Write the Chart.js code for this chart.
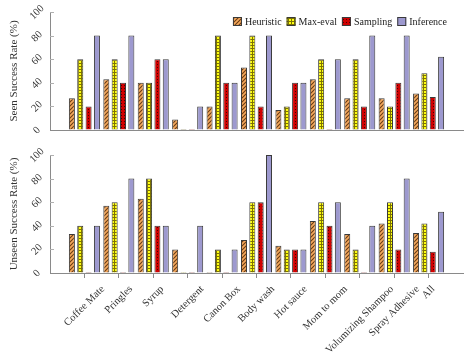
<!DOCTYPE html>
<html>
<head>
<meta charset="utf-8">
<script src="https://cdn.jsdelivr.net/npm/chart.js@4.4.0/dist/chart.umd.min.js"></script>
<style>
body { margin: 0; background: #fff; }
#top { position: absolute; left: 0; top: 0; width: 474px; height: 136px; }
#bottom { position: absolute; left: 0; top: 136px; width: 474px; height: 217px; }
</style>
</head>
<body>
<div id="top"><canvas id="seen"></canvas></div>
<div id="bottom"><canvas id="unseen"></canvas></div>
<script>
// Data
const categories = ['Coffee Mate', 'Pringles', 'Syrup', 'Detergent', 'Canon Box', 'Body wash',
    'Hot sauce', 'Mom to mom', 'Volumizing Shampoo', 'Spray Adhesive', 'All'];
const seriesNames = ['Heuristic', 'Max-eval', 'Sampling', 'Inference'];
const yTicks = [0, 20, 40, 60, 80, 100];

const heuristicSeen = [27, 43, 40, 9, 20, 53, 17, 43, 27, 27, 31];
const maxEvalSeen = [60, 60, 40, 0, 80, 80, 20, 60, 60, 20, 48];
const samplingSeen = [20, 40, 60, 0, 40, 20, 40, 0, 20, 40, 28];
const inferenceSeen = [80, 80, 60, 20, 40, 80, 40, 60, 80, 80, 62];

const heuristicUnseen = [33, 57, 63, 20, 0, 28, 23, 44, 33, 42, 34];
const maxEvalUnseen = [40, 60, 80, 0, 20, 60, 20, 60, 20, 60, 42];
const samplingUnseen = [0, 0, 40, 0, 0, 60, 20, 40, 0, 20, 18];
const inferenceUnseen = [40, 80, 40, 40, 20, 100, 20, 60, 40, 80, 52];

// blank slot at each end so the groups sit on ticks 1..11 of a 0..12 axis
const labels = ['', ...categories, ''];
const pad = arr => [null, ...arr, null];

const serif = "'Liberation Serif', 'DejaVu Serif', serif";
const axisGray = '#8a8a8a';
const textColor = '#333';

// fill patterns
function makePattern(kind) {
    const c = document.createElement('canvas');
    const g = c.getContext('2d');
    if (kind === 'stripe') {
        c.width = 4; c.height = 4;
        g.fillStyle = '#f4a85c';
        g.fillRect(0, 0, 4, 4);
        g.strokeStyle = '#6b3c12';
        g.lineWidth = 1.1;
        g.beginPath();
        g.moveTo(0, 4); g.lineTo(4, 0);
        g.moveTo(-1, 1); g.lineTo(1, -1);
        g.moveTo(3, 5); g.lineTo(5, 3);
        g.stroke();
    } else if (kind === 'grid') {
        c.width = 3; c.height = 3;
        g.fillStyle = '#ffff10';
        g.fillRect(0, 0, 3, 3);
        g.fillStyle = '#7d7300';
        g.fillRect(0, 0, 3, 1);
        g.fillRect(0, 0, 1, 3);
    } else {
        c.width = 3; c.height = 3;
        g.fillStyle = '#d00000';
        g.fillRect(0, 0, 3, 3);
        g.fillStyle = '#4a0000';
        g.fillRect(1, 1, 1, 1);
    }
    return g.createPattern(c, 'repeat');
}

const fills = [makePattern('stripe'), makePattern('grid'), makePattern('dots'), '#9d99cf'];

function makeDatasets(values) {
    return values.map((v, i) => ({
        label: seriesNames[i],
        data: pad(v),
        backgroundColor: fills[i],
        borderColor: '#3a3a3a',
        borderWidth: 1,
        minBarLength: 1,
        categoryPercentage: 0.97,
        barPercentage: 0.72
    }));
}

function yScale(title) {
    return {
        min: 0,
        max: 100,
        afterBuildTicks: s => { s.ticks = yTicks.map(v => ({ value: v })); },
        afterFit: s => { s.width = 50; },
        border: { display: true, color: axisGray },
        grid: { drawOnChartArea: false, drawTicks: false },
        ticks: { display: false },
        title: {
            display: true,
            text: title,
            color: textColor,
            padding: { top: 8, bottom: 0 },
            font: { family: serif, size: 11 }
        }
    };
}

// tick labels are rotated and centred on their tick like the original, so they are drawn here
const axisLabels = {
    id: 'axisLabels',
    afterDraw(chart, args, opts) {
        const ctx = chart.ctx;
        const ys = chart.scales.y;
        ctx.save();
        ctx.fillStyle = textColor;
        ctx.textAlign = 'center';
        ctx.textBaseline = 'middle';

        // y: inward tick marks and labels
        ctx.strokeStyle = '#b0b0b0';
        ctx.lineWidth = 1;
        ctx.font = '10.5px ' + serif;
        yTicks.forEach(v => {
            const y = Math.round(ys.getPixelForValue(v)) + 0.5;
            if (v > 0) {
                ctx.beginPath();
                ctx.moveTo(ys.right, y);
                ctx.lineTo(ys.right + 4, y);
                ctx.stroke();
            }
            ctx.save();
            ctx.translate(ys.right - 13, y);
            ctx.rotate(-Math.PI / 4);
            ctx.fillText(String(v), 0, 0);
            ctx.restore();
        });

        // x: category names (bottom panel only)
        if (opts.xLabels) {
            const xs = chart.scales.x;
            ctx.font = '10.5px ' + serif;
            for (let i = 1; i < labels.length - 1; i++) {
                const x = xs.getPixelForTick(i);
                const w = ctx.measureText(labels[i]).width;
                const half = (w + 7) * Math.SQRT1_2 / 2;
                ctx.save();
                ctx.translate(x, xs.top + 12 + half);
                ctx.rotate(-Math.PI / 4);
                ctx.fillText(labels[i], 0, 0);
                ctx.restore();
            }
        }

        // legend (top panel only), right-aligned inside the plot area
        if (opts.legend) {
            const area = chart.chartArea;
            ctx.font = '10px ' + serif;
            ctx.textAlign = 'left';
            const items = chart.data.datasets.map(ds => ({ ds, w: ctx.measureText(ds.label).width }));
            const total = items.reduce((s, it) => s + 12 + it.w + 5, -5);
            let x = area.right - 16 - total;
            const y = area.top + 9;
            items.forEach(({ ds, w }) => {
                ctx.fillStyle = ds.backgroundColor;
                ctx.fillRect(x, y - 4, 9, 9);
                ctx.strokeStyle = '#3a3a3a';
                ctx.strokeRect(x + 0.5, y - 3.5, 8, 8);
                ctx.fillStyle = '#222';
                ctx.fillText(ds.label, x + 12, y + 1);
                x += 12 + w + 5;
            });
        }
        ctx.restore();
    }
};

new Chart(document.getElementById('seen'), {
    type: 'bar',
    data: {
        labels: labels,
        datasets: makeDatasets([heuristicSeen, maxEvalSeen, samplingSeen, inferenceSeen])
    },
    options: {
        responsive: true,
        maintainAspectRatio: false,
        animation: false,
        layout: { padding: { top: 12, right: 11, bottom: 4, left: 0 } },
        plugins: {
            legend: { display: false },
            tooltip: { enabled: false },
            axisLabels: { legend: true, xLabels: false }
        },
        scales: {
            x: {
                offset: false,
                grid: { display: false, offset: false },
                border: { display: true, color: axisGray },
                ticks: { display: false },
                afterFit: s => { s.height = 2; }
            },
            y: yScale('Seen Success Rate (%)')
        }
    },
    plugins: [axisLabels]
});

new Chart(document.getElementById('unseen'), {
    type: 'bar',
    data: {
        labels: labels,
        datasets: makeDatasets([heuristicUnseen, maxEvalUnseen, samplingUnseen, inferenceUnseen])
    },
    options: {
        responsive: true,
        maintainAspectRatio: false,
        animation: false,
        layout: { padding: { top: 19, right: 11, bottom: 0, left: 0 } },
        plugins: {
            legend: { display: false },
            tooltip: { enabled: false },
            axisLabels: { legend: false, xLabels: true }
        },
        scales: {
            x: {
                offset: false,
                grid: {
                    offset: false,
                    drawOnChartArea: false,
                    drawTicks: true,
                    tickLength: 5,
                    color: ctx => (ctx.index === 0 || ctx.index === labels.length - 1) ? 'rgba(0,0,0,0)' : axisGray
                },
                border: { display: true, color: axisGray },
                ticks: { display: false, autoSkip: false },
                afterFit: s => { s.height = 80; }
            },
            y: yScale('Unseen Success Rate (%)')
        }
    },
    plugins: [axisLabels]
});
</script>
</body>
</html>
